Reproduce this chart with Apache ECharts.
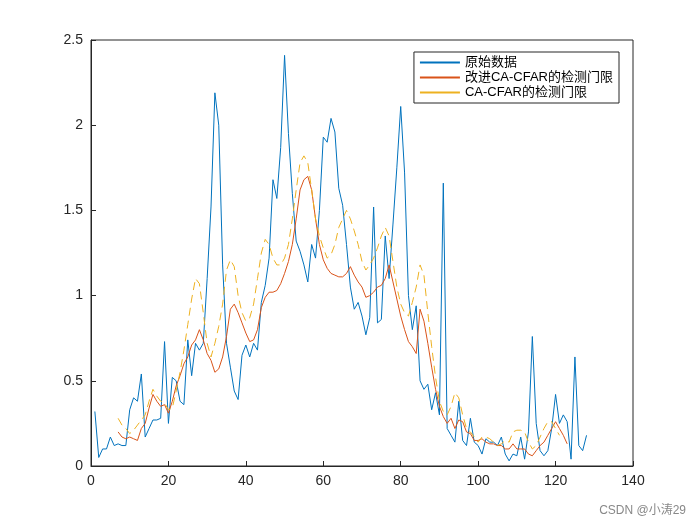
<!DOCTYPE html><html><head><meta charset="utf-8"><script src="https://cdn.jsdelivr.net/npm/echarts@6/dist/echarts.min.js"></script></head><body style="margin:0;background:#fff"><div id="c" style="width:700px;height:525px"></div><script>
const rawData=[0.32,0.05,0.1,0.1,0.17,0.12,0.13,0.12,0.12,0.33,0.4,0.38,0.54,0.17,0.22,0.27,0.27,0.28,0.73,0.25,0.52,0.5,0.38,0.36,0.74,0.53,0.72,0.68,0.72,1.1,1.52,2.19,2.0,1.18,0.72,0.58,0.44,0.39,0.65,0.71,0.64,0.72,0.68,0.96,1.06,1.22,1.68,1.57,1.87,2.41,1.95,1.6,1.32,1.26,1.18,1.08,1.3,1.22,1.5,1.93,1.9,2.04,1.96,1.63,1.53,1.3,1.05,0.92,0.96,0.88,0.77,0.87,1.52,0.84,0.86,1.35,1.1,1.42,1.75,2.11,1.72,1.0,0.8,0.94,0.5,0.45,0.48,0.33,0.43,0.3,1.66,0.22,0.18,0.14,0.38,0.15,0.12,0.28,0.14,0.12,0.07,0.16,0.14,0.14,0.12,0.17,0.07,0.03,0.07,0.06,0.17,0.04,0.2,0.76,0.25,0.09,0.06,0.09,0.22,0.42,0.25,0.3,0.26,0.04,0.64,0.12,0.09,0.18];
const improvedStart=7;
const improved=[0.2,0.17,0.16,0.17,0.16,0.15,0.22,0.25,0.34,0.42,0.38,0.35,0.36,0.31,0.38,0.47,0.53,0.6,0.64,0.71,0.74,0.8,0.74,0.66,0.62,0.55,0.57,0.64,0.76,0.92,0.95,0.9,0.84,0.78,0.73,0.74,0.8,0.93,0.99,1.02,1.02,1.03,1.07,1.13,1.2,1.3,1.45,1.62,1.68,1.7,1.62,1.45,1.3,1.21,1.16,1.13,1.12,1.11,1.11,1.13,1.17,1.12,1.08,1.05,0.99,1.0,1.02,1.05,1.06,1.1,1.18,1.08,0.98,0.88,0.8,0.73,0.7,0.66,0.92,0.85,0.72,0.58,0.45,0.35,0.29,0.25,0.28,0.22,0.27,0.26,0.2,0.19,0.15,0.15,0.16,0.14,0.13,0.13,0.12,0.12,0.1,0.1,0.13,0.1,0.1,0.1,0.07,0.06,0.09,0.12,0.14,0.18,0.22,0.26,0.22,0.18,0.13];
const cfarStart=7;
const cfar=[0.28,0.24,0.22,0.19,0.21,0.24,0.27,0.3,0.38,0.45,0.41,0.38,0.37,0.33,0.34,0.44,0.55,0.68,0.83,0.98,1.1,1.07,0.9,0.72,0.64,0.72,0.82,0.95,1.15,1.21,1.17,1.0,0.9,0.85,0.87,0.95,1.1,1.25,1.33,1.3,1.22,1.18,1.18,1.22,1.3,1.45,1.62,1.78,1.82,1.78,1.62,1.45,1.35,1.28,1.22,1.24,1.3,1.4,1.45,1.5,1.45,1.38,1.3,1.2,1.15,1.18,1.22,1.28,1.35,1.4,1.35,1.2,1.05,0.95,0.9,0.88,0.96,1.05,1.18,1.12,0.9,0.7,0.52,0.38,0.32,0.3,0.35,0.43,0.4,0.3,0.22,0.2,0.17,0.14,0.17,0.17,0.16,0.14,0.12,0.13,0.15,0.14,0.2,0.21,0.21,0.2,0.14,0.1,0.12,0.17,0.22,0.26,0.26,0.22,0.18];
const names=['原始数据','改进CA-CFAR的检测门限','CA-CFAR的检测门限'];
const xTicks=[0,20,40,60,80,100,120,140];
const yTicks=[0,0.5,1,1.5,2,2.5];
const pts=(a,s)=>a.map((v,i)=>[s+i,v]);
const font='Arial, "Liberation Sans", "Noto Sans CJK SC", sans-serif';
const ax={axisLine:{show:true,onZero:false,lineStyle:{color:'#262626'}},axisTick:{inside:true,length:5,lineStyle:{color:'#262626'}},axisLabel:{color:'#262626',fontSize:14,fontFamily:font},splitLine:{show:false}};
echarts.init(document.getElementById('c')).setOption({
animation:false,
grid:{left:91,right:67,top:40,bottom:59,show:true,borderColor:'#262626',borderWidth:1},
legend:{orient:'vertical',right:81,top:52,itemGap:2,itemWidth:40,itemHeight:2,backgroundColor:'#fff',borderColor:'#262626',borderWidth:1,padding:[4,6,4,6],textStyle:{fontSize:13,fontFamily:font,color:'#000'},data:names.map(n=>({name:n,icon:'path://M0,0H40V2H0Z'}))},
xAxis:Object.assign({type:'value',min:0,max:140,interval:20},ax),
yAxis:Object.assign({type:'value',min:0,max:2.5,interval:0.5,axisLabel:Object.assign({},ax.axisLabel,{formatter:v=>String(v)})},ax),
series:[
{name:names[0],type:'line',showSymbol:false,data:pts(rawData,1),lineStyle:{width:1,color:'#0072BD'},itemStyle:{color:'#0072BD'}},
{name:names[1],type:'line',showSymbol:false,data:pts(improved,improvedStart),lineStyle:{width:1,color:'#D95319'},itemStyle:{color:'#D95319'}},
{name:names[2],type:'line',showSymbol:false,data:pts(cfar,cfarStart),lineStyle:{width:1,color:'#EDB120',type:[8,5]},itemStyle:{color:'#EDB120'}}
],
graphic:[{type:'text',right:14,bottom:8,style:{text:'CSDN @小涛29',fontSize:12,fill:'#888',fontFamily:font}}]
});
</script></body></html>
